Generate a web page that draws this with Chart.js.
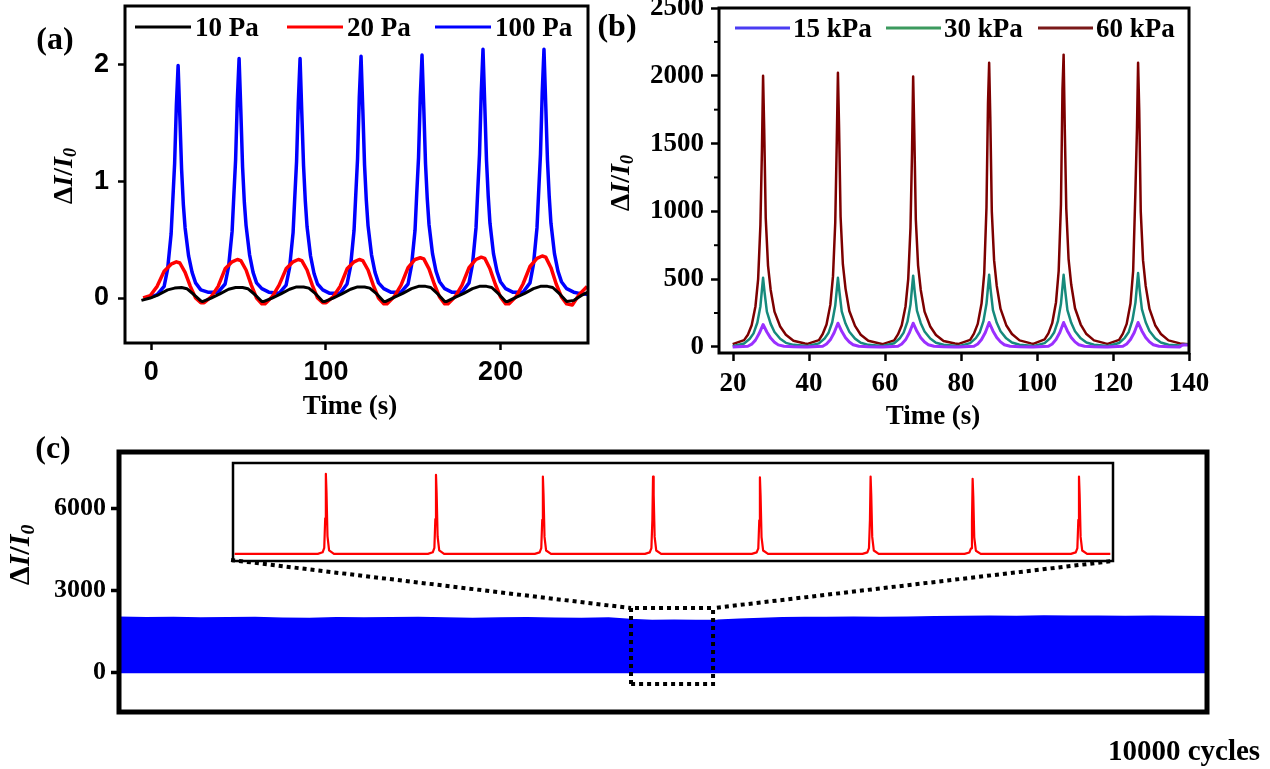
<!DOCTYPE html>
<html>
<head>
<meta charset="utf-8">
<script src="https://cdn.jsdelivr.net/npm/chart.js@4.4.1/dist/chart.umd.min.js"></script>
<style>
  html, body { margin: 0; padding: 0; background: #fff; }
  body { width: 1270px; height: 769px; position: relative; overflow: hidden; font-family: "Liberation Serif", "Times New Roman", serif; }
  canvas { position: absolute; }
  .txt { position: absolute; white-space: nowrap; font-weight: bold; color: #000; line-height: 1; transform: translate(-50%, -50%); }
  .ytitle { transform: translate(-50%, -50%) rotate(-90deg); }
  .ytitle i { font-style: italic; }
  .ytitle sub { font-size: 65%; font-style: italic; vertical-align: -0.25em; }
</style>
</head>
<body>
<canvas id="chartA" width="700" height="500" style="left:-50px;top:-50px"></canvas>
<canvas id="chartB" width="670" height="500" style="left:600px;top:-50px"></canvas>
<canvas id="chartC" width="1270" height="369" style="left:0px;top:400px"></canvas>
<canvas id="chartInset" width="886" height="104" style="left:230px;top:460px"></canvas>

<div class="txt" style="left:55px;top:38px;font-size:32px">(a)</div>
<div class="txt" style="left:617px;top:25px;font-size:32px">(b)</div>
<div class="txt" style="left:53px;top:447px;font-size:32px">(c)</div>
<div class="txt" style="left:350px;top:405px;font-size:27px">Time (s)</div>
<div class="txt" style="left:933px;top:415px;font-size:27px">Time (s)</div>
<div class="txt ytitle" style="left:64px;top:176px;font-size:28px">Δ<i>I</i>/<i>I</i><sub>0</sub></div>
<div class="txt ytitle" style="left:621px;top:183px;font-size:28px">Δ<i>I</i>/<i>I</i><sub>0</sub></div>
<div class="txt ytitle" style="left:21px;top:555px;font-size:30px">Δ<i>I</i>/<i>I</i><sub>0</sub></div>
<div class="txt" style="left:1184px;top:750px;font-size:29px">10000 cycles</div>

<script>
// ---------- (a) low pressure, 10 / 20 / 100 Pa ----------
const aXTicks = [0, 100, 200];
const aYTicks = [0, 1, 2];
const aPeakTimes = [15.4, 50.3, 85.2, 120.1, 155.0, 189.9, 224.8];

const aBlueOffsets = [-12, -8, -6, -4, -3, -2, -1, 0, 1, 2, 3, 4, 6, 8, 10, 13, 17];
const aBlueRows = [
  [0.03, 0.10, 0.25, 0.55, 0.85, 1.15, 1.65, 1.99, 1.55, 1.10, 0.80, 0.60, 0.36, 0.22, 0.13, 0.07, 0.05],
  [0.05, 0.12, 0.27, 0.57, 0.88, 1.18, 1.70, 2.05, 1.60, 1.12, 0.82, 0.62, 0.37, 0.22, 0.13, 0.08, 0.05],
  [0.04, 0.11, 0.26, 0.56, 0.87, 1.17, 1.68, 2.05, 1.58, 1.13, 0.83, 0.61, 0.36, 0.21, 0.12, 0.07, 0.04],
  [0.04, 0.12, 0.27, 0.58, 0.89, 1.19, 1.72, 2.07, 1.62, 1.14, 0.84, 0.62, 0.37, 0.22, 0.13, 0.08, 0.05],
  [0.05, 0.12, 0.28, 0.58, 0.90, 1.20, 1.72, 2.08, 1.63, 1.15, 0.85, 0.63, 0.38, 0.23, 0.14, 0.08, 0.05],
  [0.05, 0.13, 0.29, 0.60, 0.92, 1.23, 1.76, 2.13, 1.66, 1.18, 0.87, 0.64, 0.38, 0.23, 0.14, 0.08, 0.05],
  [0.05, 0.13, 0.29, 0.60, 0.92, 1.23, 1.76, 2.13, 1.66, 1.18, 0.87, 0.64, 0.38, 0.23, 0.14, 0.08, 0.05]
];
const aBlueHead = [[-4, 0.0], [0, 0.01]];
const aBlueTail = [[245, 0.04], [250, 0.03]];

const aRedOffsets = [-20, -16, -12, -8, -4, -1, 1, 4, 7, 10, 13];
const aRedRows = [
  [0.00, 0.02, 0.10, 0.23, 0.29, 0.31, 0.30, 0.22, 0.10, 0.00, -0.04],
  [-0.04, 0.01, 0.10, 0.25, 0.31, 0.33, 0.32, 0.24, 0.11, 0.00, -0.05],
  [-0.05, 0.01, 0.11, 0.25, 0.31, 0.33, 0.32, 0.24, 0.11, 0.00, -0.04],
  [-0.04, 0.01, 0.10, 0.25, 0.31, 0.33, 0.32, 0.24, 0.11, 0.00, -0.05],
  [-0.05, 0.01, 0.11, 0.26, 0.33, 0.345, 0.335, 0.25, 0.12, 0.01, -0.05],
  [-0.05, 0.01, 0.11, 0.26, 0.33, 0.35, 0.34, 0.25, 0.12, 0.01, -0.05],
  [-0.05, 0.01, 0.12, 0.27, 0.34, 0.36, 0.35, 0.26, 0.12, 0.01, -0.05]
];
const aRedTail = [[241, -0.06], [245, 0.03], [249.5, 0.10]];

const aBlackOffsets = [-21, -16, -11, -6, -2, 2, 5, 9, 13];
const aBlackRows = [
  [-0.02, 0.00, 0.03, 0.07, 0.085, 0.09, 0.08, 0.03, -0.025],
  [-0.03, 0.00, 0.035, 0.075, 0.09, 0.09, 0.08, 0.03, -0.03],
  [-0.03, 0.00, 0.035, 0.075, 0.095, 0.095, 0.085, 0.035, -0.03],
  [-0.03, 0.00, 0.035, 0.075, 0.095, 0.095, 0.085, 0.035, -0.03],
  [-0.03, 0.005, 0.04, 0.08, 0.10, 0.10, 0.09, 0.035, -0.03],
  [-0.03, 0.005, 0.04, 0.08, 0.10, 0.10, 0.09, 0.035, -0.03],
  [-0.03, 0.005, 0.04, 0.08, 0.10, 0.10, 0.09, 0.035, -0.03]
];
const aBlackTail = [[242, -0.02], [246, 0.02], [250, 0.05]];

// ---------- (b) high pressure, 15 / 30 / 60 kPa ----------
const bXTicks = [20, 40, 60, 80, 100, 120, 140];
const bYTicks = [0, 500, 1000, 1500, 2000, 2500];
const bYMinor = [250, 750, 1250, 1750, 2250];
const bPeakTimes = [27.9, 47.6, 67.4, 87.4, 107.0, 126.6];

const bBrownOffsets = [-8, -5, -4, -3, -2, -1.3, -0.7, -0.3, 0, 0.3, 0.7, 1.3, 2, 3, 4.5, 6, 8, 11];
const bBrownRows = [
  [20, 50, 90, 160, 300, 500, 900, 1450, 2000, 1600, 950, 600, 420, 260, 150, 90, 45, 25],
  [22, 50, 95, 165, 310, 520, 920, 1520, 2022, 1620, 960, 610, 430, 265, 155, 90, 45, 25],
  [20, 48, 92, 160, 300, 500, 880, 1430, 1995, 1580, 940, 600, 420, 260, 150, 88, 44, 25],
  [22, 52, 98, 170, 320, 540, 1030, 1800, 2096, 1700, 1000, 640, 450, 280, 160, 95, 48, 26],
  [22, 55, 100, 175, 330, 560, 1050, 1900, 2156, 1620, 1020, 650, 460, 285, 165, 95, 48, 26],
  [22, 52, 98, 170, 320, 560, 1150, 1600, 2096, 1750, 1000, 640, 450, 280, 160, 95, 48, 26]
];
const bBrownTail = [[140, 20]];

const bTealOffsets = [-8, -5, -3.5, -2.5, -1.5, -0.7, 0, 0.4, 1, 2, 3, 4.5, 6, 8, 11];
const bTealRows = [
  [5, 25, 60, 100, 180, 300, 510, 400, 260, 170, 110, 60, 30, 15, 8],
  [6, 26, 62, 102, 182, 305, 510, 405, 262, 172, 112, 61, 31, 15, 8],
  [6, 27, 64, 105, 186, 312, 525, 410, 268, 175, 114, 62, 31, 16, 8],
  [6, 28, 65, 106, 190, 318, 532, 418, 272, 178, 116, 63, 32, 16, 9],
  [6, 28, 65, 106, 190, 318, 532, 418, 272, 178, 116, 63, 32, 16, 9],
  [7, 29, 67, 108, 195, 325, 545, 425, 278, 182, 118, 64, 32, 16, 10]
];
const bTealTail = [[139, 18], [140, 15]];

const bPurpleOffsets = [-8, -4, -3, -2, -1, 0, 1, 2, 3, 4, 5.5, 8, 11];
const bPurpleRows = [
  [0, 5, 20, 50, 100, 165, 110, 65, 35, 15, 5, 1, 0],
  [0, 5, 21, 52, 104, 175, 115, 68, 36, 16, 5, 1, 0],
  [0, 5, 21, 52, 104, 175, 115, 68, 36, 16, 5, 1, 0],
  [0, 5, 22, 54, 106, 180, 118, 70, 37, 16, 5, 1, 0],
  [0, 5, 22, 54, 106, 180, 118, 70, 37, 16, 5, 1, 0],
  [0, 5, 22, 54, 106, 180, 118, 70, 37, 16, 5, 1, 0]
];
const bPurpleTail = [[138.2, 14], [140, 14]];

// ---------- (c) 10000 cycles ----------
const cYTicks = [0, 3000, 6000];
const cEnvX = [0, 250, 500, 750, 1000, 1250, 1500, 1750, 2000, 2250, 2500, 2750, 3000, 3250, 3500, 3750, 4000, 4250, 4500,
  4700, 4900, 5100, 5300, 5500, 5700, 5900, 6100, 6300, 6500, 6750, 7000, 7250, 7500, 7750, 8000, 8250, 8500, 8750,
  9000, 9250, 9500, 9750, 10000];
const cEnvTop = [2010, 1985, 2000, 1975, 1990, 1995, 1970, 1960, 1985, 1975, 1990, 1995, 1980, 1960, 1975, 1985, 1970, 1960, 1975,
  1920, 1890, 1900, 1885, 1895, 1935, 1960, 1990, 2000, 1995, 2010, 2000, 2005, 2020, 2035, 2040, 2030, 2050, 2045,
  2040, 2030, 2045, 2035, 2020];
const cEnvBottom = -45;
const cZoomBox = { x0: 4706, x1: 5460, y0: -440, y1: 2340 };
const cInsetCorners = { xl: 1030, yl: 4100, xr: 9110, yr: 4050 };

// inset: zoomed spikes
const insetPeakTimes = [17.2, 37.6, 57.4, 77.8, 97.6, 118.1, 137.0, 156.7];
const insetOffsets = [-1.5, -0.6, -0.3, -0.12, 0, 0.12, 0.3, 0.6, 1.5];
const insetRows = [
  [0, 40, 150, 900, 2025, 1560, 450, 90, 0],
  [0, 40, 150, 880, 2000, 1540, 440, 90, 0],
  [0, 38, 145, 860, 1957, 1500, 430, 85, 0],
  [0, 38, 145, 860, 1957, 1500, 430, 85, 0],
  [0, 38, 140, 850, 1940, 1490, 425, 85, 0],
  [0, 38, 145, 860, 1957, 1500, 430, 85, 0],
  [0, 36, 140, 830, 1899, 1460, 415, 80, 0],
  [0, 38, 145, 860, 1957, 1500, 430, 85, 0]
];
const insetHead = [[0.3, 0]];
const insetTail = [[162.5, 0]];

function series(head, peaks, offsets, rows, tail) {
  const pts = head.map(([x, y]) => ({ x, y }));
  peaks.forEach((p, i) => rows[i].forEach((y, j) => pts.push({ x: p + offsets[j], y })));
  tail.forEach(([x, y]) => pts.push({ x, y }));
  return pts;
}

// frame round the plot area, drawn over the data
const framePlugin = {
  id: 'frame',
  afterDatasetsDraw(chart, args, opts) {
    const { ctx, chartArea: a } = chart;
    ctx.save();
    ctx.strokeStyle = '#000';
    ctx.lineWidth = opts.width || 3;
    ctx.strokeRect(a.left, a.top, a.right - a.left, a.bottom - a.top);
    ctx.restore();
  }
};

// legend placed inside the frame, like the original
const insideLegend = {
  id: 'insideLegend',
  afterDraw(chart, args, opts) {
    if (!opts.items) return;
    const { ctx, chartArea: a } = chart;
    ctx.save();
    ctx.font = opts.font;
    ctx.fillStyle = '#000';
    ctx.textBaseline = 'alphabetic';
    chart.data.datasets.forEach((ds, i) => {
      const off = opts.items[i];
      if (off === undefined) return;
      const x = a.left + off, y = a.top + opts.y;
      ctx.strokeStyle = ds.legendColor || ds.borderColor;
      ctx.lineWidth = opts.lineWidth;
      ctx.beginPath();
      ctx.moveTo(x, y);
      ctx.lineTo(x + opts.lineLen, y);
      ctx.stroke();
      ctx.fillText(ds.label, x + opts.lineLen + opts.gap, y + opts.textDy);
    });
    ctx.restore();
  }
};

// short minor ticks on the left axis
const minorTicks = {
  id: 'minorTicks',
  afterDraw(chart, args, opts) {
    if (!opts.values) return;
    const { ctx, chartArea: a, scales } = chart;
    ctx.save();
    ctx.strokeStyle = '#000';
    ctx.lineWidth = opts.width;
    opts.values.forEach(v => {
      const py = scales.y.getPixelForValue(v);
      ctx.beginPath();
      ctx.moveTo(a.left, py);
      ctx.lineTo(a.left - opts.len, py);
      ctx.stroke();
    });
    ctx.restore();
  }
};

function fixTicks(values) {
  return scale => { scale.ticks = values.map(v => ({ value: v })); };
}
function axis(min, max, ticks, font, tickLen, pad, fitSize, horizontal) {
  return {
    type: 'linear', min, max,
    afterBuildTicks: fixTicks(ticks),
    afterFit: s => { if (horizontal) s.height = fitSize; else s.width = fitSize; },
    border: { display: false },
    grid: { drawOnChartArea: false, drawTicks: true, tickLength: tickLen, tickWidth: 2.5, tickColor: '#000' },
    ticks: { color: '#000', font, padding: pad, autoSkip: false, maxRotation: 0, callback: v => String(v) }
  };
}

const common = {
  responsive: false,
  maintainAspectRatio: false,
  animation: false,
  devicePixelRatio: 1,
  events: []
};

// ----- chart (a) -----
new Chart(document.getElementById('chartA'), {
  type: 'line',
  data: {
    datasets: [
      { label: '10 Pa', data: series([], aPeakTimes, aBlackOffsets, aBlackRows, aBlackTail), borderColor: '#000000', borderWidth: 3 },
      { label: '20 Pa', data: series([], aPeakTimes, aRedOffsets, aRedRows, aRedTail), borderColor: '#ff0000', borderWidth: 3.5 },
      { label: '100 Pa', data: series(aBlueHead, aPeakTimes, aBlueOffsets, aBlueRows, aBlueTail), borderColor: '#0000ff', borderWidth: 3.5 }
    ]
  },
  options: {
    ...common,
    layout: { padding: { left: 75, top: 56, right: 62, bottom: 47 } },
    elements: { point: { radius: 0 }, line: { tension: 0, borderJoinStyle: 'round' } },
    scales: {
      x: axis(-15, 250, aXTicks, { family: '"Liberation Sans", Arial, sans-serif', size: 27, weight: 'bold' }, 7, 6, 60, true),
      y: axis(-0.385, 2.5, aYTicks, { family: '"Liberation Sans", Arial, sans-serif', size: 27, weight: 'bold' }, 7, 9, 100, false)
    },
    plugins: {
      legend: { display: false },
      tooltip: { enabled: false },
      frame: { width: 3 },
      insideLegend: { items: [10, 162, 310], y: 21, lineLen: 56, gap: 4, lineWidth: 3, textDy: 9, font: 'bold 27px "Liberation Serif"' }
    }
  },
  plugins: [framePlugin, insideLegend]
});

// ----- chart (b) -----
new Chart(document.getElementById('chartB'), {
  type: 'line',
  data: {
    datasets: [
      { label: '15 kPa', data: series([], bPeakTimes, bPurpleOffsets, bPurpleRows, bPurpleTail), borderColor: '#9a30ff', legendColor: '#4a3cf2', borderWidth: 3 },
      { label: '30 kPa', data: series([], bPeakTimes, bTealOffsets, bTealRows, bTealTail), borderColor: '#168a7c', legendColor: '#3c9a5e', borderWidth: 2.5 },
      { label: '60 kPa', data: series([], bPeakTimes, bBrownOffsets, bBrownRows, bBrownTail), borderColor: '#7d0000', legendColor: '#7a1a1a', borderWidth: 2.5 }
    ]
  },
  options: {
    ...common,
    layout: { padding: { left: 19, top: 58, right: 81, bottom: 37 } },
    elements: { point: { radius: 0 }, line: { tension: 0, borderJoinStyle: 'round' } },
    scales: {
      x: axis(16.3, 140, bXTicks, { family: '"Liberation Serif", serif', size: 27, weight: 'bold' }, 8, 7, 60, true),
      y: axis(-45, 2500, bYTicks, { family: '"Liberation Serif", serif', size: 27, weight: 'bold' }, 8, 7, 100, false)
    },
    plugins: {
      legend: { display: false },
      tooltip: { enabled: false },
      frame: { width: 3 },
      minorTicks: { values: bYMinor, len: 5, width: 2 },
      insideLegend: { items: [16, 167, 319], y: 20, lineLen: 55, gap: 3, lineWidth: 3, textDy: 9, font: 'bold 27px "Liberation Serif"' }
    }
  },
  plugins: [framePlugin, insideLegend, minorTicks]
});

// ----- chart (c) -----
const dotted = { borderColor: '#000', borderWidth: 4, borderDash: [4, 4], fill: false };
new Chart(document.getElementById('chartC'), {
  type: 'line',
  data: {
    datasets: [
      { label: 'zoom', ...dotted, data: [
        { x: cZoomBox.x0, y: cZoomBox.y0 }, { x: cZoomBox.x0, y: cZoomBox.y1 },
        { x: cZoomBox.x1, y: cZoomBox.y1 }, { x: cZoomBox.x1, y: cZoomBox.y0 }, { x: cZoomBox.x0, y: cZoomBox.y0 }] },
      { label: 'left', ...dotted, data: [{ x: cInsetCorners.xl, y: cInsetCorners.yl }, { x: cZoomBox.x0, y: cZoomBox.y1 }] },
      { label: 'right', ...dotted, data: [{ x: cInsetCorners.xr, y: cInsetCorners.yr }, { x: cZoomBox.x1, y: cZoomBox.y1 }] },
      { label: 'cycles', data: cEnvX.map((x, i) => ({ x, y: cEnvTop[i] })), borderColor: '#0000ff', backgroundColor: '#0000ff', borderWidth: 1.5, fill: { value: cEnvBottom } }
    ]
  },
  options: {
    ...common,
    layout: { padding: { left: 19, top: 52, right: 63, bottom: 57 } },
    elements: { point: { radius: 0 }, line: { tension: 0 } },
    scales: {
      x: { type: 'linear', min: 0, max: 10000, display: false },
      y: Object.assign(axis(-1460, 8050, cYTicks, { family: '"Liberation Serif", serif', size: 26, weight: 'bold' }, 8, 5, 100, false),
        { grid: { drawOnChartArea: false, drawTicks: true, tickLength: 8, tickWidth: 3.5, tickColor: '#000' } })
    },
    plugins: { legend: { display: false }, tooltip: { enabled: false }, frame: { width: 5 } }
  },
  plugins: [framePlugin]
});

// ----- inset of (c) -----
new Chart(document.getElementById('chartInset'), {
  type: 'line',
  data: {
    datasets: [
      { label: 'zoomed', data: series(insetHead, insetPeakTimes, insetOffsets, insetRows, insetTail), borderColor: '#ff0000', borderWidth: 2.2 }
    ]
  },
  options: {
    ...common,
    layout: { padding: 3 },
    elements: { point: { radius: 0 }, line: { tension: 0, borderJoinStyle: 'round' } },
    scales: {
      x: { type: 'linear', min: 0, max: 163, display: false },
      y: { type: 'linear', min: -180, max: 2300, display: false }
    },
    plugins: { legend: { display: false }, tooltip: { enabled: false }, frame: { width: 2.5 } }
  },
  plugins: [framePlugin]
});
</script>
</body>
</html>
